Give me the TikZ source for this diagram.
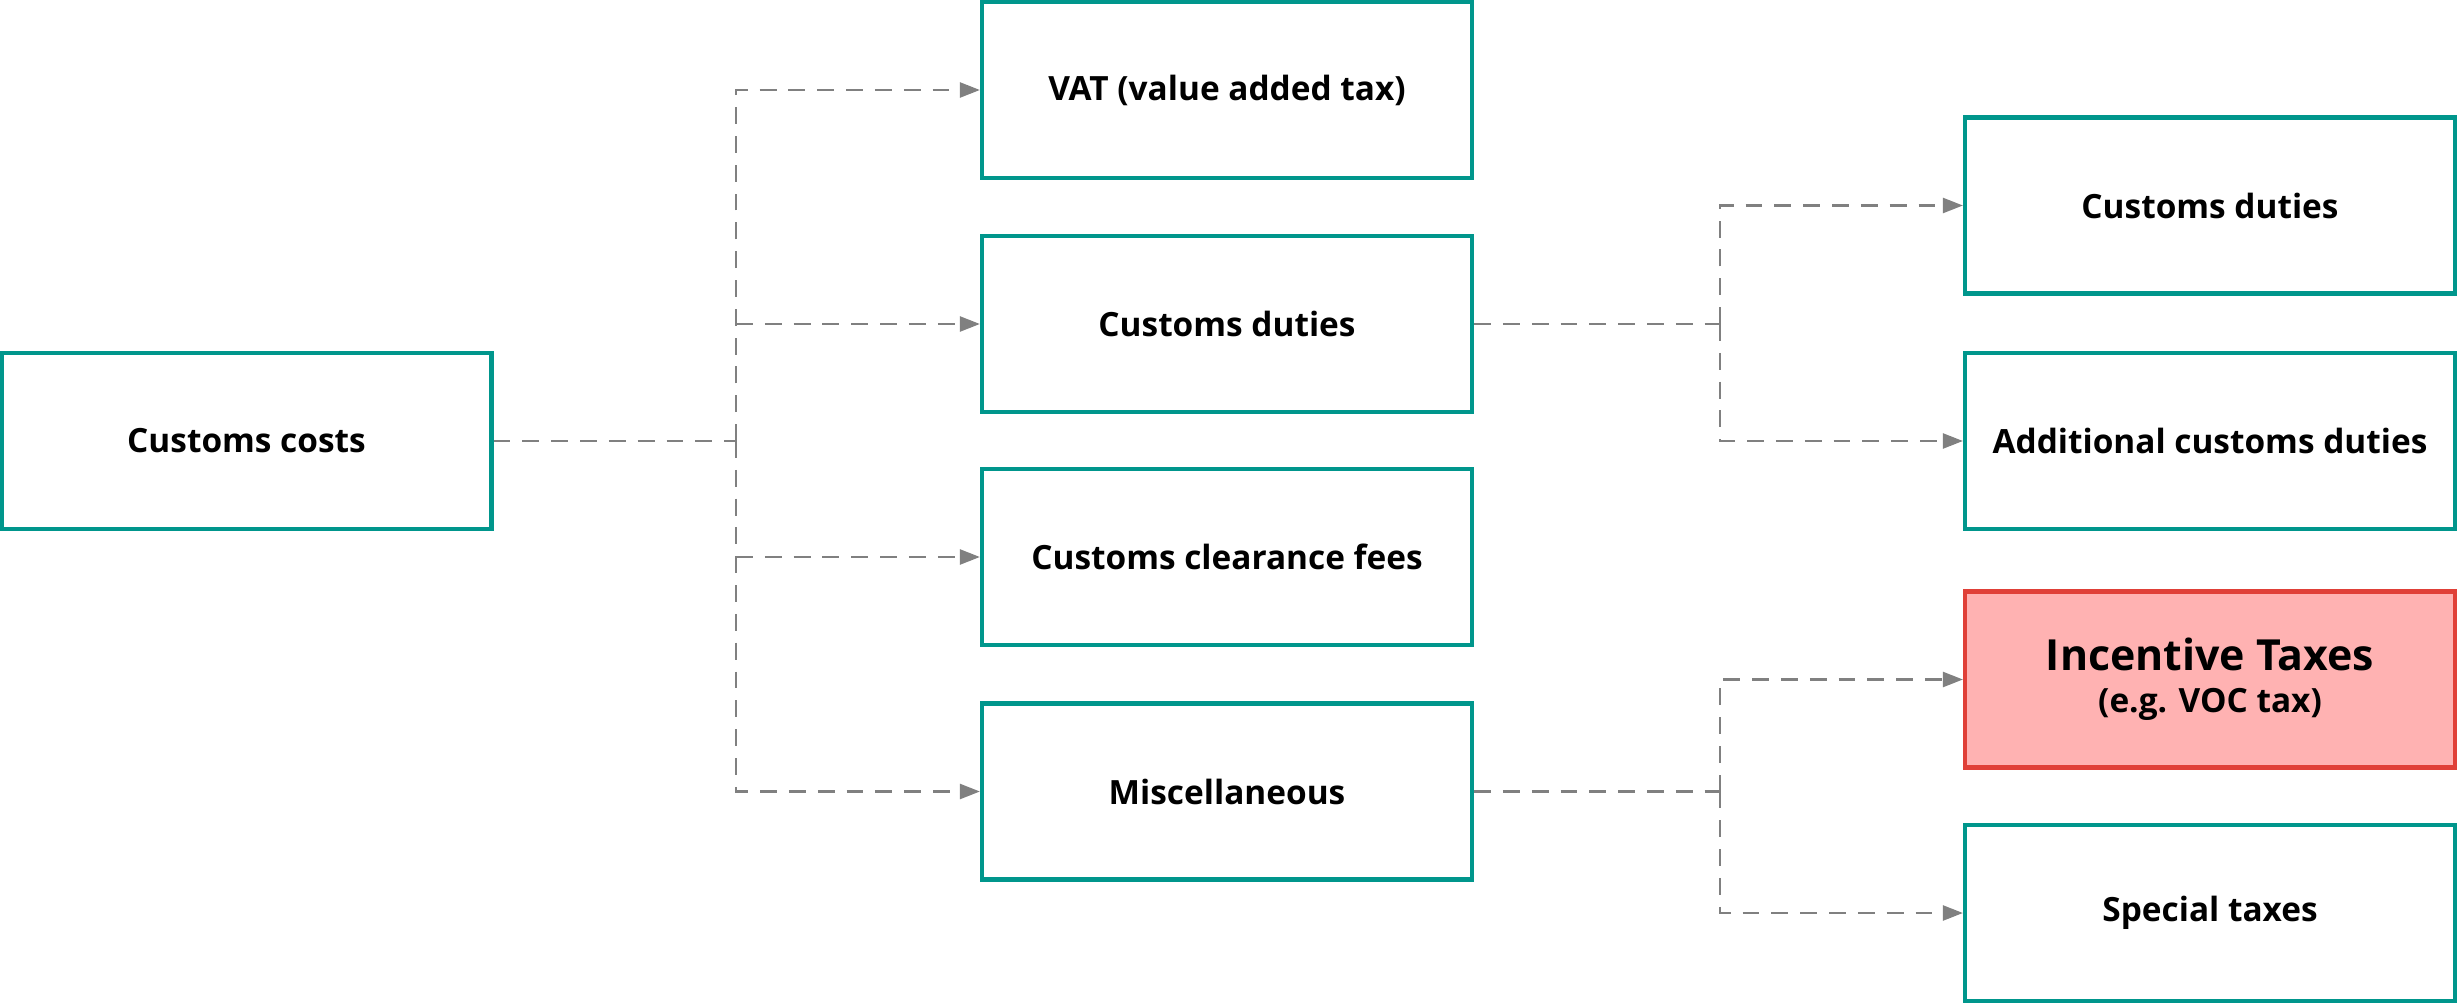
\documentclass[tikz,border=0pt]{standalone}
\usepackage{fontspec}
\setmainfont{Open Sans}
\usetikzlibrary{arrows.meta,calc}
\definecolor{teal1}{RGB}{0,150,140}
\definecolor{redborder}{RGB}{224,64,56}
\definecolor{redfill}{RGB}{255,178,178}
\definecolor{linegray}{RGB}{128,128,128}
\tikzset{
  box/.style={draw=teal1, line width=1.2pt, fill=white, minimum width=4.9cm, minimum height=1.76cm, inner sep=0pt, align=center, font=\bfseries\fontsize{9.5}{12}\selectfont},
  hotbox/.style={box, draw=redborder, fill=redfill},
  conn/.style={draw=linegray, line width=0.7pt, dash pattern=on 4.8pt off 3.4pt},
  arr/.style={conn, -{Triangle[length=2mm, width=1.5mm]}}
}
\begin{document}
\begin{tikzpicture}
\useasboundingbox (0,0) rectangle (24.6,10.04);
\node[box] (cc) at (2.465,5.63) {Customs costs};
\node[box] (vat) at (12.27,9.14) {VAT (value added tax)};
\node[box] (cd) at (12.27,6.80) {Customs duties};
\node[box] (ccf) at (12.27,4.47) {Customs clearance fees};
\node[box] (misc) at (12.27,2.125) {Miscellaneous};
\node[box] (rcd) at (22.10,7.985) {Customs duties};
\node[box] (acd) at (22.10,5.63) {Additional customs duties};
\node[hotbox] (inc) at (22.10,3.245) {{\fontsize{12.2}{15}\selectfont Incentive Taxes}\\[0pt](e.g. VOC tax)};
\node[box] (sp) at (22.10,0.91) {Special taxes};

\coordinate (j1) at (7.36,5.63);
\coordinate (j2) at (17.20,6.80);
\coordinate (j3) at (17.20,2.125);

\draw[conn] (cc.east) -- (j1);
\draw[arr] (j1) |- (vat.west);
\draw[arr] (j1) |- (misc.west);
\draw[arr] (j1 |- cd.west) -- (cd.west);
\draw[arr] (j1 |- ccf.west) -- (ccf.west);

\draw[conn] (cd.east) -- (j2);
\draw[arr] (j2) |- (rcd.west);
\draw[arr] (j2) |- (acd.west);

\draw[conn] (misc.east) -- (j3);
\draw[arr] (j3) |- (inc.west);
\draw[arr] (j3) |- (sp.west);
\end{tikzpicture}
\end{document}
